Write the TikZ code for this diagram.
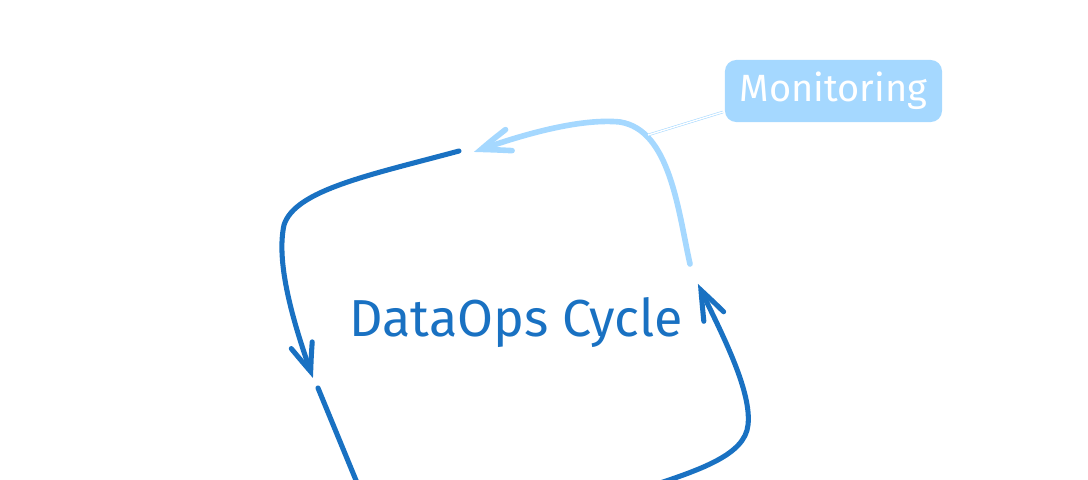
\documentclass[tikz,border=0pt]{standalone}
\usepackage{fontspec}
\setmainfont{Fira Sans}
\usetikzlibrary{arrows.meta,bending}

\definecolor{cycleblue}{HTML}{1971C2}
\definecolor{monblue}{HTML}{A5D8FF}

\tikzset{
  flow/.style={draw=cycleblue, line width=3.6pt, line cap=round, line join=round},
  monflow/.style={draw=monblue, line width=4pt, line cap=round, line join=round},
  barb/.style={-{Straight Barb[length=0.7cm,width=0.55cm,line cap=round,bend]}},
  tagbox/.style={fill=monblue, rounded corners=8pt, minimum width=5.425cm, minimum height=1.55cm,
    text=white, font=\fontsize{27}{30}\selectfont},
  cyclelabel/.style={text=cycleblue, font=\fontsize{37}{42}\selectfont}
}

\begin{document}
\begin{tikzpicture}[x=0.025cm,y=-0.025cm]
\clip (0,0) rectangle (1088,480);

\node[tagbox] (mon) at (833.5,91) {Monitoring};
\node[cyclelabel] (cycle) at (516,323) {DataOps Cycle};

\coordinate (topstart) at (459,151);
\coordinate (lefttip) at (313,378);
\coordinate (leftgo) at (318,388);
\coordinate (leftend) at (360,490);
\coordinate (botstart) at (645,488);
\coordinate (righttip) at (698,284);
\coordinate (monstart) at (690,264);
\coordinate (montip) at (474,152);
\coordinate (monfoot) at (723,112);
\coordinate (monjoin) at (648,135);

% left side, going down
\draw[flow,barb] (topstart) .. controls (370,175) and (295,190) .. (284,225)
  .. controls (276,262) and (292,320) .. (lefttip);
\draw[flow] (leftgo) -- (leftend);

% right side, going up
\draw[flow,barb] (botstart) .. controls (700,470) and (745,455) .. (748,425)
  .. controls (752,390) and (720,330) .. (righttip);

% monitoring loop
\draw[monflow,barb] (monstart) .. controls (678,210) and (670,130) .. (620,122)
  .. controls (580,118) and (520,135) .. (montip);
\draw[monblue, line width=0.4pt, double, double distance=1pt] (monfoot) -- (monjoin);

\end{tikzpicture}
\end{document}
